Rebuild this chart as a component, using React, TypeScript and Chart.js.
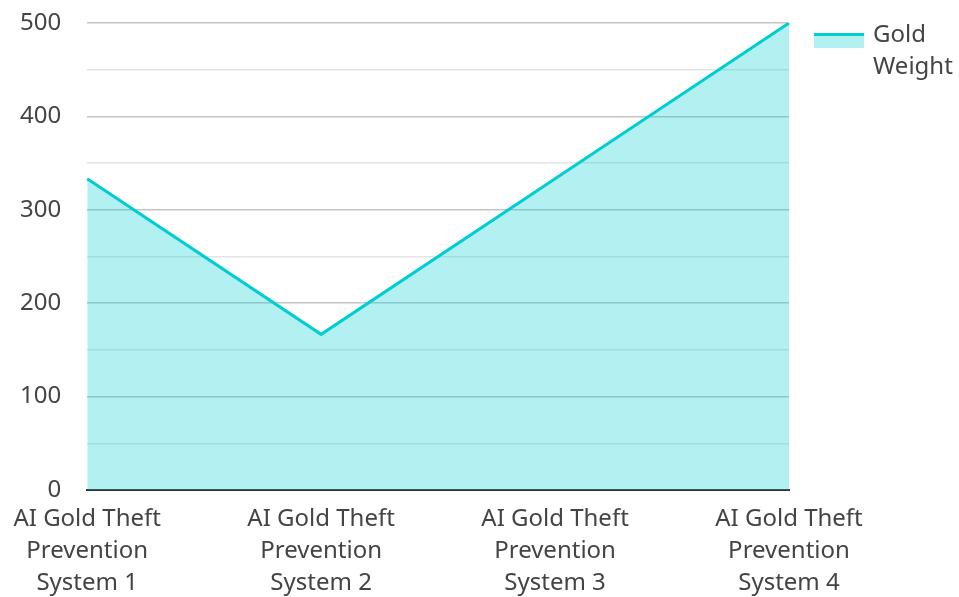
import React, { useEffect, useRef } from "react";
import { Chart, registerables } from "chart.js";

Chart.register(...registerables);

const categories: string[][] = [
  ["AI Gold Theft", "Prevention", "System 1"],
  ["AI Gold Theft", "Prevention", "System 2"],
  ["AI Gold Theft", "Prevention", "System 3"],
  ["AI Gold Theft", "Prevention", "System 4"],
];
const goldWeight: number[] = [333.33, 166.67, 333.33, 500];
const seriesName: string[] = ["Gold", "Weight"];
const yMin = 0;
const yMax = 500;
const yStep = 50;

const LINE = "rgb(0, 206, 209)";
const FILL = "rgba(0, 206, 209, 0.3)";
const FONT = "'Noto Sans', 'Open Sans', sans-serif";
const TEXT = "#444444";
const FSIZE = 24;

const legendPlugin = {
  id: "customLegend",
  afterDraw(chart: any) {
    const ctx = chart.ctx;
    const area = chart.chartArea;
    const x0 = area.right + 25;
    const y0 = area.top + 10;
    ctx.save();
    ctx.fillStyle = FILL;
    ctx.fillRect(x0, y0, 50, 15);
    ctx.fillStyle = LINE;
    ctx.fillRect(x0, y0, 50, 3);
    ctx.fillStyle = TEXT;
    ctx.font = `${FSIZE}px ${FONT}`;
    ctx.textBaseline = "middle";
    ctx.textAlign = "left";
    seriesName.forEach((t, i) => {
      ctx.fillText(t, x0 + 59, y0 + 2 + i * 32);
    });
    ctx.restore();
  },
};

export default function App() {
  const ref = useRef<HTMLCanvasElement | null>(null);
  useEffect(() => {
    document.body.style.margin = "0";
    if (!ref.current) return;
    const chart = new Chart(ref.current, {
      type: "line",
      data: {
        labels: categories,
        datasets: [
          {
            label: seriesName.join(" "),
            data: goldWeight,
            borderColor: LINE,
            backgroundColor: FILL,
            borderWidth: 3,
            fill: "origin",
            tension: 0,
            pointRadius: 0,
            pointHoverRadius: 0,
          },
        ],
      },
      options: {
        animation: false,
        responsive: false,
        maintainAspectRatio: false,
        layout: { padding: { top: 23, right: 170, left: -6, bottom: 0 } },
        plugins: {
          legend: { display: false },
          tooltip: { enabled: false },
        },
        scales: {
          x: {
            grid: { display: false, drawTicks: false },
            border: { display: true, color: "#333333", width: 2 },
            afterFit: (scale: any) => {
              scale.height = 107;
              scale.paddingTop = 0;
              scale.paddingBottom = 0;
            },
            ticks: {
              color: TEXT,
              font: { family: FONT, size: FSIZE, lineHeight: 1.33 },
              padding: 13,
              maxRotation: 0,
              autoSkip: false,
            },
          },
          y: {
            min: yMin,
            max: yMax,
            afterFit: (scale: any) => {
              scale.paddingTop = 0;
              scale.paddingBottom = 0;
            },
            grid: {
              drawTicks: false,
              color: (c: any) =>
                c.tick && c.tick.value % 100 === 0 ? "#c4c4c4" : "#e4e4e4",
              lineWidth: 1.5,
            },
            border: { display: false },
            ticks: {
              stepSize: yStep,
              color: TEXT,
              font: { family: FONT, size: FSIZE },
              padding: 26,
              callback: (v: any) => (Number(v) % 100 === 0 ? String(v) : ""),
            },
          },
        },
      },
      plugins: [legendPlugin],
    });
    return () => chart.destroy();
  }, []);
  return (
    <div style={{ width: 959, height: 597 }}>
      <canvas ref={ref} width={959} height={597} style={{ display: "block" }} />
    </div>
  );
}
